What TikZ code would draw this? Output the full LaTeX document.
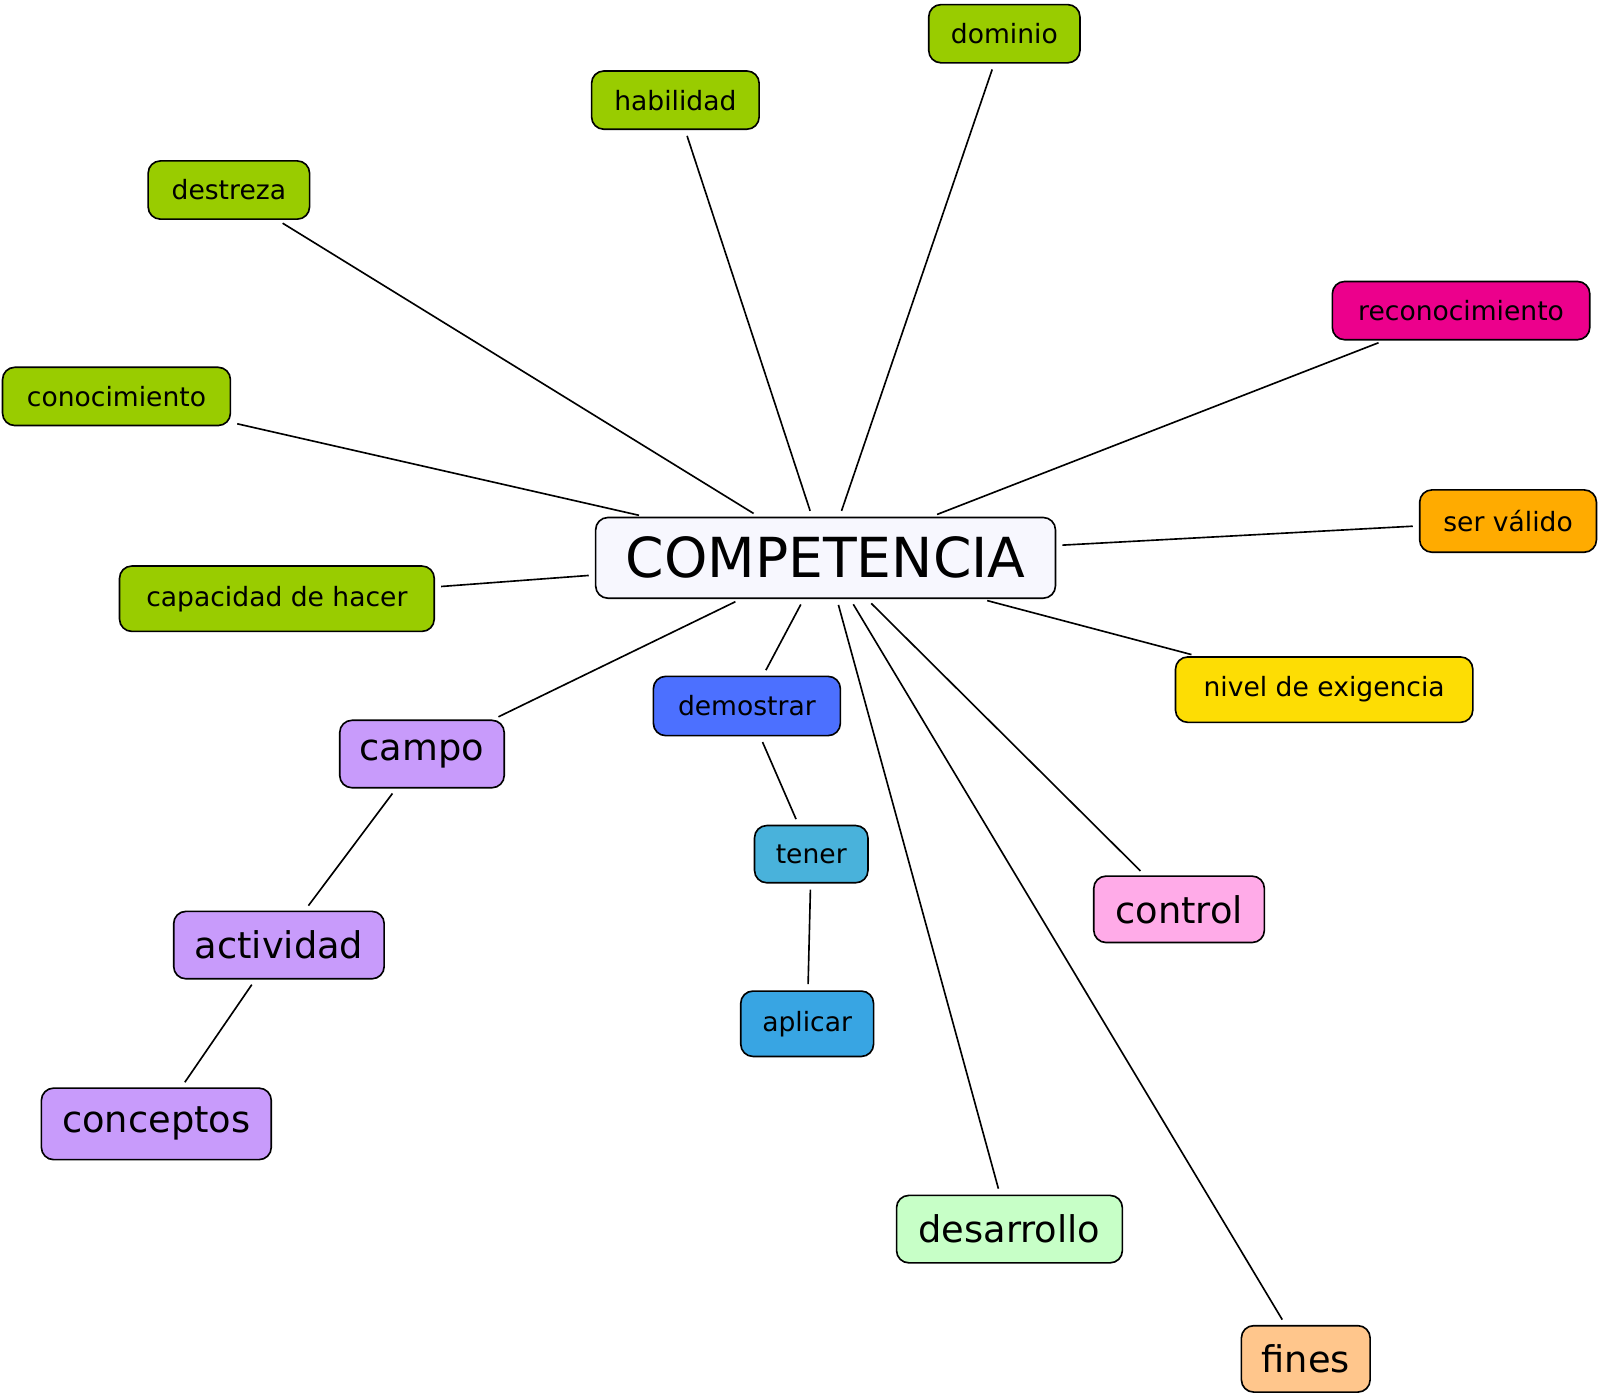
\documentclass[tikz,border=0pt]{standalone}
\usepackage{fontspec}
\setmainfont{DejaVu Sans}
\begin{document}
\begin{tikzpicture}[x=0.5pt,y=-0.5pt,
 box/.style={draw,line width=0.8pt,rounded corners=6pt,inner sep=0pt,font=\fontsize{13}{15}\selectfont},
 big/.style={box,font=\fontsize{18}{21}\selectfont},
 link/.style={line width=0.8pt,shorten >=3pt,shorten <=3pt}]
\useasboundingbox (0,0) rectangle (1566,1368);
\def\B#1#2#3#4#5#6#7{\node[#1,fill=#7,minimum width=#5*0.5pt,minimum height=#6*0.5pt] (#2) at (#3,#4)}
\definecolor{gr}{HTML}{99CC00}
\B{box,font=\fontsize{27}{30}\selectfont}{C}{808}{546}{450}{79}{black!8!blue!3!white} {COMPETENCIA};
\B{box}{dom}{983}{33}{148}{57}{gr} {dominio};
\B{box}{hab}{661}{98}{164}{57}{gr} {habilidad};
\B{box}{des}{224}{186}{158}{57}{gr} {destreza};
\B{box}{con}{114}{388}{223}{57}{gr} {conocimiento};
\B{box}{cap}{271}{586}{308}{64}{gr} {capacidad de hacer};
\B{box}{rec}{1430}{304}{252}{57}{magenta} {reconocimiento};
\B{box}{ser}{1476}{510}{173}{61}{orange!90!red!60!yellow} {ser válido};
\B{box}{niv}{1296}{675}{291}{64}{yellow!80!orange} {nivel de exigencia};
\definecolor{pu}{HTML}{C89BFB}
\B{big}{cam}{413}{738}{161}{66}{pu} {campo};
\B{big}{act}{273}{925}{206}{66}{pu} {actividad};
\B{big}{cnc}{153}{1100}{225}{70}{pu} {conceptos};
\B{box}{dem}{731}{691}{183}{58}{blue!80!cyan!70!white} {demostrar};
\B{box}{ten}{794}{836}{111}{56}{cyan!70!teal!80!white} {tener};
\B{box}{apl}{790}{1002}{130}{64}{cyan!80!blue!80!white} {aplicar};
\B{big}{ctl}{1154}{890}{167}{65}{pink!60!magenta!60!white} {control};
\B{big}{dsa}{988}{1203}{221}{66}{green!22} {desarrollo};
\B{big}{fin}{1278}{1330}{126}{65}{orange!45} {fines};
\foreach \n in {dom,hab,des,con,cap,rec,ser,niv,cam,dem,ctl,dsa,fin}
  \draw[link] (C) -- (\n);
\draw[link] (cam) -- (act);
\draw[link] (act) -- (cnc);
\draw[link] (dem) -- (ten);
\draw[link] (ten) -- (apl);
\end{tikzpicture}
\end{document}
